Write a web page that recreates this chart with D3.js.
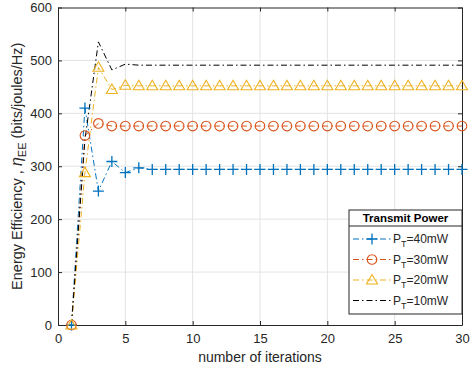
<!DOCTYPE html>
<html>
<head>
<meta charset="utf-8">
<script src="https://cdn.jsdelivr.net/npm/d3@7"></script>
<style>
  body { margin: 0; background: #fff; }
  svg { font-family: "Liberation Sans", Arial, sans-serif; }
</style>
</head>
<body>
<svg id="chart" width="474" height="369"></svg>
<script>
// iterations 1..30
const iterations = d3.range(1, 31);

const ee40 = [0, 410, 253, 309, 288, 297, 294, 294, 294, 294, 294, 294, 294, 294, 294,
  294, 294, 294, 294, 294, 294, 294, 294, 294, 294, 294, 294, 294, 294, 294];
const ee30 = [0, 358, 381, 376, 376, 376, 376, 376, 376, 376, 376, 376, 376, 376, 376,
  376, 376, 376, 376, 376, 376, 376, 376, 376, 376, 376, 376, 376, 376, 376];
const ee20 = [0, 288, 487, 445, 453, 452, 452, 452, 452, 452, 452, 452, 452, 452, 452,
  452, 452, 452, 452, 452, 452, 452, 452, 452, 452, 452, 452, 452, 452, 452];
const ee10 = [0, 350, 535, 482, 493, 491, 491, 491, 491, 491, 491, 491, 491, 491, 491,
  491, 491, 491, 491, 491, 491, 491, 491, 491, 491, 491, 491, 491, 491, 491];

const seriesNames = ['40mW', '30mW', '20mW', '10mW'];
const xTicks = [0, 5, 10, 15, 20, 25, 30];
const yTicks = [0, 100, 200, 300, 400, 500, 600];

const series = [
  { name: seriesNames[0], values: ee40, color: '#0072BD', marker: 'plus' },
  { name: seriesNames[1], values: ee30, color: '#D95319', marker: 'circle' },
  { name: seriesNames[2], values: ee20, color: '#EDB120', marker: 'triangle' },
  { name: seriesNames[3], values: ee10, color: '#000000', marker: 'none' }
];

const margin = { top: 7.5, right: 12, bottom: 44, left: 58 };
const width = 474, height = 369;

const svg = d3.select('#chart');

const x = d3.scaleLinear().domain([0, 30]).range([margin.left, width - margin.right]);
const y = d3.scaleLinear().domain([0, 600]).range([height - margin.bottom, margin.top]);

// grid
svg.append('g')
  .selectAll('line')
  .data(xTicks.slice(1, -1))
  .enter().append('line')
  .attr('x1', d => x(d)).attr('x2', d => x(d))
  .attr('y1', y(0)).attr('y2', y(600))
  .attr('stroke', '#e3e3e3').attr('stroke-width', 1);

svg.append('g')
  .selectAll('line')
  .data(yTicks.slice(1, -1))
  .enter().append('line')
  .attr('x1', x(0)).attr('x2', x(30))
  .attr('y1', d => y(d)).attr('y2', d => y(d))
  .attr('stroke', '#e3e3e3').attr('stroke-width', 1);

// axes (ticks inward)
const axisColor = '#262626';
const xAxis = svg.append('g')
  .attr('transform', `translate(0,${y(0)})`)
  .call(d3.axisBottom(x).tickValues(xTicks).tickSizeInner(-4).tickSizeOuter(0).tickPadding(9));
const xAxisTop = svg.append('g')
  .attr('transform', `translate(0,${y(600)})`)
  .call(d3.axisTop(x).tickValues(xTicks).tickSizeInner(-4).tickSizeOuter(0).tickFormat(''));
const yAxis = svg.append('g')
  .attr('transform', `translate(${x(0)},0)`)
  .call(d3.axisLeft(y).tickValues(yTicks).tickSizeInner(-4).tickSizeOuter(0).tickPadding(6));
const yAxisRight = svg.append('g')
  .attr('transform', `translate(${x(30)},0)`)
  .call(d3.axisRight(y).tickValues(yTicks).tickSizeInner(-4).tickSizeOuter(0).tickFormat(''));

[xAxis, xAxisTop, yAxis, yAxisRight].forEach(g => {
  g.select('.domain').attr('stroke', axisColor);
  g.selectAll('.tick line').attr('stroke', axisColor);
  g.selectAll('.tick text').attr('fill', axisColor).style('font-size', '13px');
});

// lines
const dashDot = '6,3,1.5,3';
const line = d3.line()
  .x((d, i) => x(iterations[i]))
  .y(d => y(d));

series.forEach(s => {
  svg.append('path')
    .datum(s.values)
    .attr('d', line)
    .attr('fill', 'none')
    .attr('stroke', s.color)
    .attr('stroke-width', 1)
    .attr('stroke-dasharray', dashDot);
});

function drawMarker(g, type, color, cx, cy) {
  if (type === 'plus') {
    g.append('path')
      .attr('d', `M${cx - 5.5},${cy}H${cx + 5.5}M${cx},${cy - 5.5}V${cy + 5.5}`)
      .attr('stroke', color).attr('stroke-width', 1.3).attr('fill', 'none');
  } else if (type === 'circle') {
    g.append('circle')
      .attr('cx', cx).attr('cy', cy).attr('r', 4.8)
      .attr('stroke', color).attr('stroke-width', 1.1).attr('fill', 'none');
  } else if (type === 'triangle') {
    g.append('path')
      .attr('d', `M${cx},${cy - 5.5}L${cx + 5.5},${cy + 4}L${cx - 5.5},${cy + 4}Z`)
      .attr('stroke', color).attr('stroke-width', 1.1).attr('fill', 'none');
  }
}

series.forEach(s => {
  if (s.marker === 'none') return;
  const g = svg.append('g');
  s.values.forEach((v, i) => drawMarker(g, s.marker, s.color, x(iterations[i]), y(v)));
});

// axis labels
svg.append('text')
  .attr('x', (x(0) + x(30)) / 2)
  .attr('y', 362)
  .attr('text-anchor', 'middle')
  .attr('fill', axisColor)
  .style('font-size', '14px')
  .text('number of iterations');

const yl = svg.append('text')
  .attr('transform', `translate(22,${(y(0) + y(600)) / 2}) rotate(-90)`)
  .attr('text-anchor', 'middle')
  .attr('fill', axisColor)
  .style('font-size', '14.5px');
yl.append('tspan').text('Energy Efficiency , ');
yl.append('tspan').text('η').style('font-style', 'italic').style('font-size', '16px');
yl.append('tspan').text('EE').attr('dy', 4).style('font-size', '11px');
yl.append('tspan').text(' (bits/joules/Hz)').attr('dy', -4);

// legend
const lg = svg.append('g').attr('transform', 'translate(349,210)');
lg.append('rect')
  .attr('width', 113).attr('height', 104)
  .attr('fill', '#fff').attr('stroke', axisColor).attr('stroke-width', 1);
lg.append('line')
  .attr('x1', 0).attr('x2', 113).attr('y1', 16).attr('y2', 16)
  .attr('stroke', axisColor);
lg.append('text')
  .attr('x', 56.5).attr('y', 12)
  .attr('text-anchor', 'middle')
  .style('font-size', '11.5px').style('font-weight', 'bold')
  .attr('fill', '#000')
  .text('Transmit Power');

series.forEach((s, i) => {
  const yy = 29 + i * 20.5;
  lg.append('line')
    .attr('x1', 4).attr('x2', 42).attr('y1', yy).attr('y2', yy)
    .attr('stroke', s.color).attr('stroke-dasharray', dashDot);
  drawMarker(lg, s.marker, s.color, 23, yy);
  const t = lg.append('text')
    .attr('x', 44).attr('y', yy + 4)
    .attr('fill', axisColor)
    .style('font-size', '12px');
  t.append('tspan').text('P');
  t.append('tspan').text('T').attr('dy', 4).style('font-size', '9px');
  t.append('tspan').text('=' + s.name).attr('dy', -4);
});
</script>
</body>
</html>
